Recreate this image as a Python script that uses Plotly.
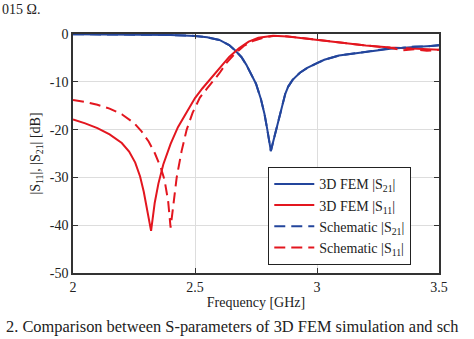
import plotly.graph_objects as go

# ---- data ----
f_s21_fem = [2.0, 2.1, 2.2, 2.3, 2.4, 2.5, 2.55, 2.6, 2.64, 2.664, 2.69, 2.71, 2.73, 2.75,
             2.77, 2.785, 2.796, 2.805, 2.811, 2.818, 2.835, 2.855, 2.87, 2.882, 2.9, 2.93, 2.96,
             3.0, 3.03, 3.09, 3.2, 3.3, 3.4, 3.5]
s21_fem = [-0.05, -0.05, -0.08, -0.12, -0.2, -0.4, -0.7, -1.25, -2.3, -3.4, -4.8, -6.4, -8.3, -10.4,
           -13.6, -16.8, -19.9, -22.6, -24.5, -23.0, -19.6, -15.0, -12.5, -11.0, -9.6, -8.1, -7.1,
           -6.1, -5.4, -4.5, -3.7, -3.1, -2.7, -2.4]

f_s11_fem = [2.0, 2.05, 2.1, 2.15, 2.2, 2.23, 2.255, 2.275, 2.29, 2.305, 2.32, 2.335, 2.35, 2.37, 2.4,
             2.43, 2.47, 2.5, 2.53, 2.56, 2.6, 2.64, 2.68, 2.72, 2.76, 2.82, 2.88, 2.94,
             3.0, 3.1, 3.2, 3.3, 3.4, 3.5]
s11_fem = [-17.9, -18.7, -19.7, -21.0, -22.8, -24.6, -26.9, -29.8, -33.0, -37.0, -41.2, -35.3, -31.3, -27.3, -23.0,
           -19.5, -16.0, -13.4, -11.4, -9.6, -7.0, -4.8, -3.0, -1.6, -0.8, -0.35, -0.5, -0.85,
           -1.3, -1.9, -2.4, -2.8, -3.1, -3.3]

f_s21_sch = [2.0, 2.1, 2.2, 2.3, 2.4, 2.5, 2.55, 2.6, 2.64, 2.664, 2.69, 2.71, 2.73, 2.75,
             2.77, 2.785, 2.796, 2.805, 2.811, 2.818, 2.835, 2.855, 2.87, 2.882, 2.9, 2.93, 2.96,
             3.0, 3.03, 3.09, 3.2, 3.3, 3.35, 3.4, 3.45, 3.5]
s21_sch = [-0.05, -0.05, -0.08, -0.12, -0.2, -0.4, -0.7, -1.25, -2.3, -3.4, -4.8, -6.4, -8.3, -10.4,
           -13.6, -16.8, -19.9, -22.6, -24.5, -23.0, -19.6, -15.0, -12.5, -11.0, -9.6, -8.1, -7.1,
           -6.1, -5.4, -4.5, -3.7, -3.0, -2.9, -2.6, -2.6, -2.3]

f_s11_sch = [2.0, 2.05, 2.1, 2.15, 2.2, 2.25, 2.28, 2.31, 2.336, 2.36, 2.375, 2.39, 2.40, 2.41,
             2.425, 2.445, 2.466, 2.49, 2.52, 2.548, 2.575, 2.6, 2.63, 2.66, 2.7, 2.74, 2.78,
             2.82, 2.88, 2.94, 3.0, 3.1, 3.2, 3.3, 3.35, 3.4, 3.45, 3.5]
s11_sch = [-13.8, -14.2, -14.8, -15.6, -16.8, -18.6, -20.3, -22.5, -25.0, -28.0, -30.5, -35.0, -40.5, -36.0,
           -30.0, -24.5, -20.0, -16.5, -13.3, -11.5, -9.9, -8.2, -6.0, -4.3, -2.5, -1.4, -0.8,
           -0.4, -0.5, -0.85, -1.3, -1.9, -2.4, -2.9, -3.4, -3.2, -3.5, -3.3]

x_ticks = [2, 2.5, 3, 3.5]
x_tick_labels = ["2", "2.5", "3", "3.5"]
y_ticks = [-50, -40, -30, -20, -10, 0]
y_tick_labels = ["-50", "-40", "-30", "-20", "-10", "0"]

BLUE = "#23459c"
RED = "#e3161f"
FONT = "Liberation Serif"

fig = go.Figure()
fig.add_trace(go.Scatter(x=f_s21_fem, y=s21_fem, mode="lines", name="3D FEM |S<sub>21</sub>|",
                         line=dict(color=BLUE, width=2)))
fig.add_trace(go.Scatter(x=f_s11_fem, y=s11_fem, mode="lines", name="3D FEM |S<sub>11</sub>|",
                         line=dict(color=RED, width=2)))
fig.add_trace(go.Scatter(x=f_s21_sch, y=s21_sch, mode="lines", name="Schematic |S<sub>21</sub>|",
                         line=dict(color=BLUE, width=2, dash="11px,6px")))
fig.add_trace(go.Scatter(x=f_s11_sch, y=s11_sch, mode="lines", name="Schematic |S<sub>11</sub>|",
                         line=dict(color=RED, width=2, dash="11px,6px")))

axis_common = dict(showline=True, mirror="ticks", linecolor="#333333", linewidth=1.5,
                   ticks="inside", ticklen=5, tickcolor="#333333",
                   showgrid=True, gridcolor="#dddddd", gridwidth=1, zeroline=False,
                   tickfont=dict(family=FONT, size=14, color="#222222"))

fig.update_xaxes(range=[2, 3.5], tickvals=x_ticks, ticktext=x_tick_labels,
                 title=dict(text="Frequency [GHz]", font=dict(family=FONT, size=14, color="#222222"),
                            standoff=4),
                 **axis_common)
fig.update_yaxes(range=[-50, 0], tickvals=y_ticks, ticktext=y_tick_labels,
                 title=dict(text="|S<sub>11</sub>|, |S<sub>21</sub>| [dB]",
                            font=dict(family=FONT, size=14, color="#222222"), standoff=6),
                 **axis_common)

fig.update_layout(
    width=474, height=339,
    margin=dict(l=73, r=35, t=34, b=66),
    plot_bgcolor="white", paper_bgcolor="white",
    font=dict(family=FONT, size=14, color="#222222"),
    showlegend=True,
    legend=dict(x=0.533, y=0.443, xanchor="left", yanchor="top",
                bgcolor="white", bordercolor="#222222", borderwidth=1.2,
                font=dict(family=FONT, size=14, color="#222222"),
                tracegroupgap=0, itemwidth=40),
    annotations=[
        dict(text="2. Comparison between S-parameters of 3D FEM simulation and sch",
             xref="paper", yref="paper", x=-0.189, y=-0.272, xanchor="left", yanchor="bottom",
             showarrow=False, font=dict(family=FONT, size=16.4, color="#222222")),
        dict(text="015 Ω.", xref="paper", yref="paper", x=-0.2, y=1.142,
             xanchor="left", yanchor="top", showarrow=False,
             font=dict(family=FONT, size=14, color="#222222")),
    ],
)

fig.write_html("out.html")
